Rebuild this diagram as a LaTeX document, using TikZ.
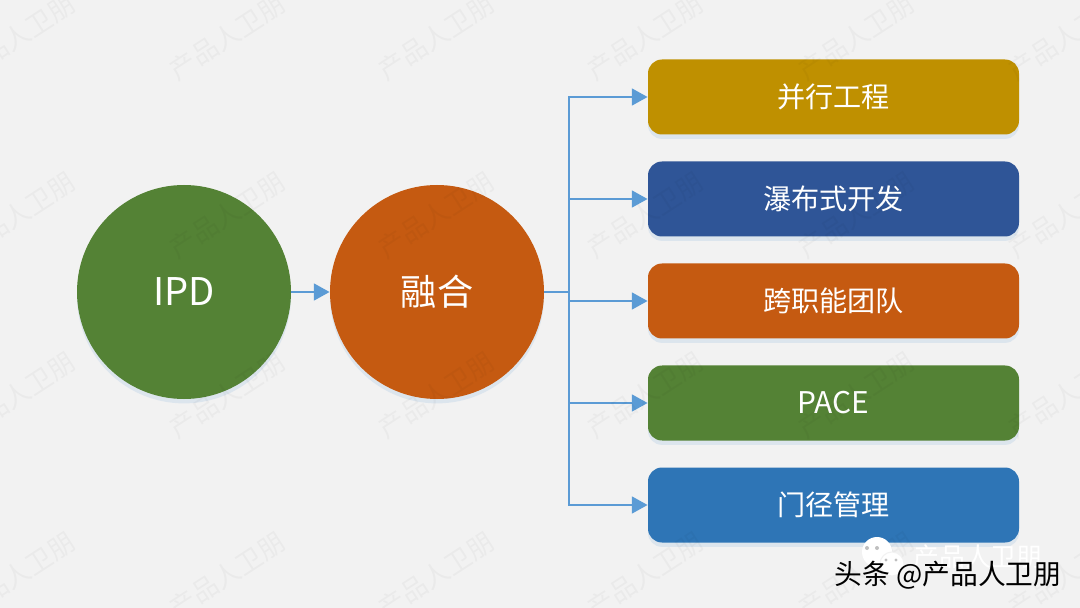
\documentclass[tikz,border=0pt]{standalone}
\usepackage{fontspec}
\setmainfont{Noto Sans CJK SC}
\usetikzlibrary{
    arrows.meta,
    shadows,
    positioning
}
\definecolor{pagebg}{HTML}{F2F2F2}
\definecolor{linkblue}{HTML}{5B9BD5}
\definecolor{ipdgreen}{HTML}{548235}
\definecolor{mixorange}{HTML}{C55A11}
\definecolor{boxgold}{HTML}{BF9000}
\definecolor{boxnavy}{HTML}{2F5597}
\definecolor{boxblue}{HTML}{2E75B6}
\tikzset{
    softshadow/.style={drop shadow={shadow xshift=0pt,shadow yshift=-2.5pt,fill=linkblue,opacity=0.14}},
    bigcircle/.style={circle,minimum size=214*0.02cm,inner sep=0pt,text=white,font=\fontsize{21.7}{25}\selectfont,softshadow},
    stepbox/.style={rounded corners=14*0.02cm,minimum width=371*0.02cm,minimum height=75*0.02cm,inner sep=0pt,text=white,font=\fontsize{16}{20}\selectfont,softshadow},
    link/.style={draw=linkblue,line width=1.5pt},
    linkarrow/.style={link,-{Triangle[length=9pt,width=9.5pt]}},
    watermark/.style={text=black,text opacity=0.03,rotate=33,font=\fontsize{15}{18}\selectfont,inner sep=0pt},
    logodot/.style={circle,fill=white,inner sep=0pt}
}
\begin{document}
\begin{tikzpicture}[x=0.02cm,y=-0.02cm]
    \useasboundingbox[fill=pagebg] (0,0) rectangle (1080,608);
    % circles
    \node[bigcircle,fill=ipdgreen] (ipd) at (184,292) {IPD};
    \node[bigcircle,fill=mixorange,font=\fontsize{20.6}{25}\selectfont] (mix) at (437,292) {融合};
    % boxes
    \node[stepbox,fill=boxgold] (par) at (833.5,97) {并行工程};
    \node[stepbox,fill=boxnavy] (fall) at (833.5,199) {瀑布式开发};
    \node[stepbox,fill=mixorange] (team) at (833.5,301) {跨职能团队};
    \node[stepbox,fill=ipdgreen,font=\fontsize{17}{20}\selectfont] (pace) at (833.5,403) {PACE};
    \node[stepbox,fill=boxblue] (gate) at (833.5,505) {门径管理};
    \coordinate (fork) at (569,292);
    % connectors
    \draw[linkarrow] (ipd) -- (mix);
    \draw[link] (mix) -- (fork);
    \draw[linkarrow] (fork) |- (par);
    \draw[linkarrow] (fork) |- (fall);
    \draw[linkarrow] (fork) |- (team);
    \draw[linkarrow] (fork) |- (pace);
    \draw[linkarrow] (fork) |- (gate);
    % watermarks
    \foreach \mx in {17,227,436,645,856,1066}
        \foreach \my in {37,215,395,575}
            \node[watermark] (m\mx-\my) at (\mx,\my) {产品人卫朋};
    % logo
    \node[logodot,minimum size=30*0.02cm] (logoa) at (877,552) {};
    \node[logodot,minimum size=24*0.02cm,draw=pagebg,line width=0.6pt] (logob) at (892,564) {};
    \fill[gray!50] (867,548) circle (2) (877,548) circle (2) (886,560) circle (1.6) (896,560) circle (1.6);
    \node[text=white,font=\fontsize{14.7}{18}\selectfont,inner sep=0pt] (marktop) at (978,557) {产品人卫朋};
    \node[font=\fontsize{15.8}{18}\selectfont,inner sep=0pt] (credit) at (948,575) {头条 @产品人卫朋};
\end{tikzpicture}
\end{document}
